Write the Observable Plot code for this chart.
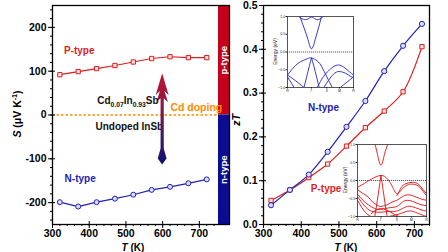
<!DOCTYPE html>
<html><head><meta charset="utf-8">
<script src="https://cdn.jsdelivr.net/npm/d3@7"></script>
<script src="https://cdn.jsdelivr.net/npm/@observablehq/plot@0.6"></script>
<style>
body{margin:0;background:#fff;}
#fig{position:relative;width:448px;height:252px;overflow:hidden;font-family:"Liberation Sans",Arial,sans-serif;background:#fff;}
#fig svg{position:absolute;overflow:visible;}
</style></head><body><div id="fig"></div>
<script>
// ---------- data ----------
const temps = [320, 370, 420, 470, 520, 570, 620, 670, 720];
const seebeckP = [92, 99, 106, 113, 121, 129, 133, 131, 131];
const seebeckN = [-199, -209, -199, -191, -182, -171, -164, -156, -147];
const ztN = [0.044, 0.079, 0.114, 0.166, 0.223, 0.282, 0.350, 0.408, 0.458];
const ztP = [0.055, 0.079, 0.107, 0.138, 0.179, 0.221, 0.259, 0.303, 0.406];
const xTicks = [300, 400, 500, 600, 700];
const sTicks = [-200, -100, 0, 100, 200];
const ztTicks = [0, 0.1, 0.2, 0.3, 0.4, 0.5];
const kLabels = ["R", "Γ", "X", "M", "R"];
const kPosN = [0, 0.364, 0.596, 0.788, 1];
const kPosP = [0, 0.34, 0.57, 0.78, 1];
const eTicks = [-1, -0.5, 0, 0.5, 1];
const barRange = [752, 782];
const typeBar = [
  {label: "p-type", lo: 0, hi: 250, mid: 125, color: "#c4001c"},
  {label: "n-type", lo: -250, hi: 0, mid: -125, color: "#0c0c92"}
];
const arrowT = 600;
const arrowS = [94, -114];
const bandsN = [
  [[0.19,1.0],[0.25,0.68],[0.31,0.35],[0.364,0.09],[0.42,0.35],[0.47,0.68],[0.515,1.0]],
  [[0.17,1.0],[0.24,0.92],[0.31,0.93],[0.364,0.98],[0.42,0.93],[0.48,0.92],[0.54,1.0]],
  [[0,-0.65],[0.1,-0.42],[0.2,-0.27],[0.3,-0.19],[0.364,-0.17],[0.45,-0.25],[0.52,-0.42],[0.596,-0.7],[0.65,-0.9],[0.68,-1.0]],
  [[0.45,-1.0],[0.55,-0.68],[0.65,-0.48],[0.72,-0.39],[0.79,-0.37],[0.87,-0.45],[0.94,-0.56],[1,-0.65]],
  [[0.364,-0.17],[0.33,-0.4],[0.29,-0.7],[0.25,-1.0]],
  [[0.364,-0.17],[0.4,-0.4],[0.44,-0.7],[0.48,-1.0]],
  [[0,-0.65],[0.08,-0.75],[0.17,-0.88],[0.25,-1.0]],
  [[0,-0.7],[0.05,-0.85],[0.1,-1.0]],
  [[0.55,-1.0],[0.62,-0.8],[0.7,-0.62],[0.78,-0.55],[0.88,-0.6],[0.95,-0.68],[1,-0.72]],
  [[0.8,-1.0],[0.9,-0.85],[1,-0.7]]
];
const bandsP = [
  [[0.255,1.0],[0.29,0.72],[0.34,0.42],[0.39,0.72],[0.437,1.0]],
  [[0,-0.19],[0.1,-0.08],[0.2,0.04],[0.34,0.14],[0.43,0.05],[0.5,-0.15],[0.57,-0.37],[0.63,-0.2],[0.7,-0.09],[0.79,-0.05],[0.88,-0.1],[0.95,-0.25],[1,-0.37]],
  [[0.57,-0.42],[0.64,-0.25],[0.72,-0.13],[0.79,-0.1],[0.88,-0.15],[0.95,-0.3],[1,-0.42]],
  [[0.34,0.14],[0.31,-0.25],[0.28,-0.65],[0.25,-1.0]],
  [[0.34,0.14],[0.37,-0.25],[0.4,-0.65],[0.43,-1.0]],
  [[0,-0.25],[0.07,-0.35],[0.15,-0.45],[0.22,-0.6],[0.3,-0.7],[0.34,-0.72],[0.42,-0.68],[0.5,-0.6],[0.57,-0.55],[0.65,-0.45],[0.72,-0.4],[0.8,-0.42],[0.9,-0.5],[1,-0.55]],
  [[0,-0.38],[0.08,-0.55],[0.16,-0.68],[0.25,-0.78],[0.34,-0.8],[0.45,-0.76],[0.57,-0.72],[0.65,-0.6],[0.72,-0.55],[0.8,-0.58],[0.9,-0.66],[1,-0.7]],
  [[0,-0.45],[0.1,-0.7],[0.2,-0.85],[0.34,-0.88],[0.45,-0.86],[0.57,-0.85],[0.68,-0.75],[0.78,-0.72],[0.9,-0.8],[1,-0.85]],
  [[0,-0.55],[0.08,-0.8],[0.15,-0.95],[0.2,-1.0]],
  [[0.45,-1.0],[0.57,-0.95],[0.68,-0.88],[0.78,-0.85],[0.9,-0.93],[1,-1.0]],
  [[0.2,-0.92],[0.34,-0.78],[0.5,-0.9],[0.6,-1.0]]
];

// ---------- helpers ----------
const FONT = '"Liberation Sans", Arial, sans-serif';
const RED = "#dc1e1e", BLUE = "#2222b4", ORANGE = "#ff8a00";
const fig = document.getElementById("fig");
function place(svg, left, top) { svg.style.left = left + "px"; svg.style.top = top + "px"; fig.appendChild(svg); return svg; }
function rich(svg, x, y, parts, {size = 10, anchor = "middle", rotate = 0, fill = "#000", weight = "bold"} = {}) {
  const t = d3.select(svg).append("text")
    .attr("transform", `translate(${x},${y}) rotate(${rotate})`)
    .attr("text-anchor", anchor).attr("font-size", size).attr("font-weight", weight)
    .attr("fill", fill).attr("font-family", FONT);
  let off = 0;
  for (const p of parts) {
    const s = t.append("tspan").text(p.t);
    if (p.i) s.attr("font-style", "italic");
    let target = 0;
    if (p.sub) { target = size * 0.3; s.attr("font-size", size * 0.68); }
    if (p.sup) { target = -size * 0.38; s.attr("font-size", size * 0.68); }
    if (target !== off) { s.attr("dy", target - off); off = target; }
  }
  return t;
}
const sData = temps.flatMap((t, i) => [{T: t, S: seebeckP[i], type: "P"}, {T: t, S: seebeckN[i], type: "N"}]);
const zData = temps.flatMap((t, i) => [{T: t, z: ztP[i], type: "P"}, {T: t, z: ztN[i], type: "N"}]);
const col = d => d.type === "P" ? RED : BLUE;
const baseStyle = {fontFamily: FONT, fontSize: "10.5px", fontWeight: "bold", color: "#000", background: "transparent", overflow: "visible"};

// ---------- left: Seebeck ----------
const left = Plot.plot({
  width: 232, height: 252, marginLeft: 52, marginRight: 3, marginTop: 5, marginBottom: 28,
  x: {domain: [300, barRange[1]], label: null}, y: {domain: [-250, 250], label: null},
  style: baseStyle,
  marks: [
    Plot.rect(typeBar, {x1: () => barRange[0], x2: () => barRange[1], y1: "lo", y2: "hi", fill: "color"}),
    Plot.text(typeBar, {x: () => (barRange[0] + barRange[1]) / 2, y: "mid", text: "label", rotate: -90, fill: "#fff", fontSize: 9.5, fontWeight: "bold"}),
    Plot.ruleY([0], {x1: 300, x2: barRange[0], stroke: ORANGE, strokeWidth: 1.5, strokeDasharray: "2.5,2"}),
    Plot.line(sData, {x: "T", y: "S", z: "type", stroke: col, strokeWidth: 1.2}),
    Plot.dot(sData.filter(d => d.type === "P"), {x: "T", y: "S", symbol: "square", r: 2.4, stroke: RED, fill: "#fde2e2", strokeWidth: 1}),
    Plot.dot(sData.filter(d => d.type === "N"), {x: "T", y: "S", symbol: "circle", r: 2.5, stroke: BLUE, fill: "#dcdcf8", strokeWidth: 1}),
    Plot.text([{T: 331, S: 146, t: "P-type", c: RED}, {T: 333, S: -146, t: "N-type", c: BLUE}],
      {x: "T", y: "S", text: "t", fill: "c", textAnchor: "start", fontSize: 10, fontWeight: "bold"}),
    Plot.text([{T: 621, S: 16, t: "Cd doping"}], {x: "T", y: "S", text: "t", fill: ORANGE, textAnchor: "start", fontSize: 10.5, fontWeight: "bold"}),
    Plot.text([{T: 417, S: -27, t: "Undoped InSb"}], {x: "T", y: "S", text: "t", fill: "#111", textAnchor: "start", fontSize: 10, fontWeight: "bold"}),
    Plot.frame({stroke: "#000", strokeWidth: 1.3}),
    Plot.axisX({ticks: xTicks, tickSize: 4, tickPadding: 1, tickFormat: d => String(d), label: null}),
    Plot.axisX({ticks: d3.range(300, 741, 20), tickSize: 2, tickFormat: () => "", label: null}),
    Plot.axisX({ticks: xTicks, tickSize: 3, dy: -3, tickFormat: () => "", label: null}),
    Plot.axisY({ticks: sTicks, tickSize: 4, tickPadding: 2, tickFormat: d => String(d), label: null}),
    Plot.axisY({ticks: d3.range(-240, 241, 20), tickSize: 2, tickFormat: () => "", label: null}),
    Plot.axisY({ticks: sTicks, tickSize: 3, dx: 3, tickFormat: () => "", label: null})
  ]
});
place(left, 0, 0);
{
  const xs = left.scale("x").apply, ys = left.scale("y").apply;
  const x0 = xs(arrowT), y0 = ys(arrowS[0]), y1 = ys(arrowS[1]), H = y1 - y0;
  const sel = d3.select(left);
  const defs = sel.append("defs");
  const g = defs.append("linearGradient").attr("id", "arrowGrad").attr("x1", 0).attr("y1", 0).attr("x2", 0).attr("y2", 1);
  g.append("stop").attr("offset", "0%").attr("stop-color", "#c0142c");
  g.append("stop").attr("offset", "35%").attr("stop-color", "#8c1842");
  g.append("stop").attr("offset", "70%").attr("stop-color", "#3c1a64");
  g.append("stop").attr("offset", "100%").attr("stop-color", "#101070");
  const pts = [[0,0],[6.5,22],[2.2,17.5],[5.8,29],[1.6,25],[1.6,H-16],[4.4,H-6],[0,H]];
  const right = pts.map(([dx, dy]) => [x0 + dx, y0 + dy]);
  const leftSide = pts.slice(1, -1).reverse().map(([dx, dy]) => [x0 - dx, y0 + dy]);
  const path = "M" + right.concat(leftSide).map(p => p.join(",")).join("L") + "Z";
  sel.append("path").attr("d", path).attr("fill", "url(#arrowGrad)");
  rich(left, xs(423), ys(25), [{t: "Cd"}, {t: "0.07", sub: 1}, {t: "In"}, {t: "0.93", sub: 1}, {t: "Sb"}], {size: 10, anchor: "start", fill: "#111"});
  rich(left, 21, 114, [{t: "S", i: 1}, {t: " (μV K"}, {t: "-1", sup: 1}, {t: ")"}], {size: 10.5, rotate: -90});
  rich(left, 133, 251, [{t: "T", i: 1}, {t: " (K)"}], {size: 10});
}

// ---------- right: zT ----------
const rightPlot = Plot.plot({
  width: 216, height: 252, marginLeft: 31, marginRight: 19, marginTop: 5, marginBottom: 28,
  x: {domain: [300, 740], label: null}, y: {domain: [0, 0.5], label: null},
  style: baseStyle,
  marks: [
    Plot.line(zData, {x: "T", y: "z", z: "type", stroke: col, strokeWidth: 1.2, curve: "catmull-rom"}),
    Plot.dot(zData.filter(d => d.type === "P"), {x: "T", y: "z", symbol: "square", r: 2.4, stroke: RED, fill: "#fde2e2", strokeWidth: 1}),
    Plot.dot(zData.filter(d => d.type === "N"), {x: "T", y: "z", symbol: "circle", r: 2.6, stroke: BLUE, fill: "#dcdcf8", strokeWidth: 1}),
    Plot.text([{T: 459, z: 0.266, t: "N-type", c: BLUE}, {T: 466, z: 0.082, t: "P-type", c: RED}],
      {x: "T", y: "z", text: "t", fill: "c", fontSize: 10, fontWeight: "bold"}),
    Plot.frame({stroke: "#000", strokeWidth: 1.3}),
    Plot.axisX({ticks: xTicks, tickSize: 4, tickPadding: 1, tickFormat: d => String(d), label: null}),
    Plot.axisX({ticks: d3.range(300, 741, 20), tickSize: 2, tickFormat: () => "", label: null}),
    Plot.axisX({ticks: xTicks, tickSize: 3, dy: -3, tickFormat: () => "", label: null}),
    Plot.axisY({ticks: ztTicks, tickSize: 4, tickPadding: 2, tickFormat: d3.format(".1f"), label: null}),
    Plot.axisY({ticks: d3.range(0, 0.501, 0.02), tickSize: 2, tickFormat: () => "", label: null}),
    Plot.axisY({ticks: ztTicks, tickSize: 3, dx: 3, tickFormat: () => "", label: null})
  ]
});
place(rightPlot, 232, 0);
rich(rightPlot, 8, 120, [{t: "zT", i: 1}], {size: 11, rotate: -90});
rich(rightPlot, 114, 251, [{t: "T", i: 1}, {t: " (K)"}], {size: 10});

// ---------- insets: band structures ----------
function inset(bands, kPos, color, left0, top0, w, h) {
  const data = bands.flatMap((b, j) => b.map(([k, E]) => ({k, E, band: j})));
  const p = Plot.plot({
    width: w, height: h, marginLeft: 14, marginRight: 2, marginTop: 3, marginBottom: 7,
    x: {domain: [0, 1], label: null}, y: {domain: [-1, 1], label: null},
    style: {fontFamily: FONT, fontSize: "3.6px", color: "#222", background: "transparent", overflow: "visible"},
    marks: [
      Plot.frame({fill: "#fff"}),
      Plot.ruleY([0], {stroke: "#333", strokeWidth: 0.8, strokeDasharray: "1.2,0.8"}),
      Plot.line(data, {x: "k", y: "E", z: "band", stroke: color, strokeWidth: 0.9, curve: "natural", clip: true}),
      Plot.frame({stroke: "#444", strokeWidth: 0.9}),
      Plot.axisY({ticks: eTicks, tickSize: 1.5, tickPadding: 0.8, tickFormat: d3.format(".1f"), label: null}),
      Plot.axisX({ticks: kPos, tickSize: 1.5, tickPadding: 0.8, tickFormat: d => kLabels[kPos.indexOf(d)], label: null})
    ]
  });
  place(p, left0, top0);
  rich(p, 3.5, 3 + (h - 10) / 2, [{t: "Energy (eV)"}], {size: 5, rotate: -90, weight: "normal", fill: "#222"});
  return p;
}
inset(bandsN, kPosN, "#2424c8", 273, 13, 82, 81);
inset(bandsP, kPosP, "#e01010", 343, 141, 85, 82);
</script></body></html>
